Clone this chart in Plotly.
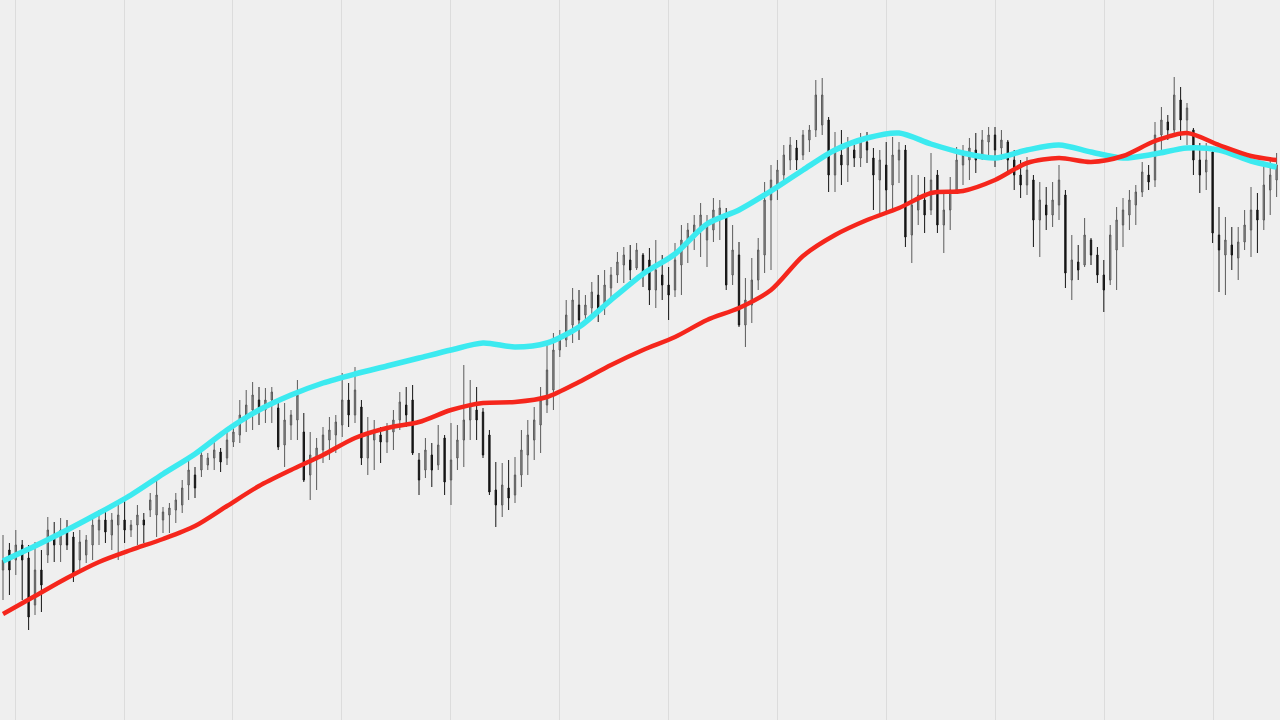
import plotly.graph_objects as go

# Daily candles (price units), index 0..199
opens = [150,170,160,175,162,115,150,165,185,175,
         192,183,160,165,175,190,200,185,195,200,
         190,195,200,210,205,200,205,210,215,235,
         245,250,255,262,268,262,278,285,300,310,
         320,310,320,312,275,295,300,288,245,260,
         270,280,285,295,320,305,313,262,280,285,
         278,288,300,315,320,260,250,265,255,282,
         240,262,280,300,310,308,285,230,215,232,
         225,245,265,280,295,315,330,370,380,395,
         415,405,412,425,412,432,445,455,460,452,
         465,460,430,445,435,430,455,478,488,490,
         480,490,505,505,445,465,395,415,440,465,
         520,535,545,560,572,565,580,590,595,600,
         545,565,555,570,562,578,562,540,555,535,
         560,570,485,510,520,510,545,495,510,530,
         555,560,570,565,578,585,572,578,560,545,
         535,540,500,515,505,515,525,440,458,455,
         480,465,445,440,470,495,505,515,528,545,
         540,585,598,590,620,600,590,560,548,568,
         485,465,475,462,478,490,510,500,530,540]
highs = [185,177,190,180,175,178,170,203,198,202,
         200,188,190,185,203,210,212,207,220,220,
         200,215,207,227,240,213,217,227,240,262,
         253,272,267,280,272,288,293,320,330,338,
         333,332,333,318,317,310,340,307,288,282,
         293,303,305,347,337,353,320,303,300,293,
         297,310,328,333,335,267,282,277,295,285,
         297,295,355,340,333,312,290,258,257,260,
         263,290,300,313,333,377,387,390,420,432,
         430,425,438,445,450,453,468,473,475,477,
         467,472,480,465,453,477,495,497,505,517,
         505,522,520,512,495,478,442,462,482,538,
         555,560,575,583,580,590,595,640,642,603,
         588,590,583,575,587,588,572,570,578,583,
         578,575,545,545,543,567,550,530,543,573,
         575,582,587,590,593,593,590,580,570,560,
         563,545,538,533,538,555,530,485,475,502,
         482,473,460,495,513,522,530,535,558,555,
         598,613,605,643,633,617,592,577,577,572,
         513,503,493,493,510,533,527,557,560,567]
lows = [120,125,145,120,90,105,108,157,158,158,
        170,138,150,157,160,175,177,170,160,177,
        183,175,177,203,183,187,187,197,207,220,
        222,243,250,250,248,255,273,277,288,290,
        295,297,297,270,253,280,280,238,220,230,
        257,260,267,283,293,297,255,245,250,257,
        267,270,290,293,265,225,242,233,250,225,
        215,250,253,280,280,262,225,193,203,210,
        217,233,245,260,267,307,310,363,373,377,
        380,397,405,398,405,420,437,437,440,450,
        433,415,412,420,400,423,425,457,470,463,
        453,478,480,430,435,393,373,397,430,447,
        450,520,538,550,550,560,568,583,585,528,
        528,535,538,553,553,557,510,503,507,510,
        537,473,457,495,487,505,487,467,490,527,
        535,540,547,560,563,553,560,545,530,522,
        525,473,463,490,493,500,432,420,440,453,
        455,437,408,435,430,473,490,495,523,530,
        533,570,580,583,580,575,545,527,530,477,
        428,425,450,440,470,463,467,490,505,523]
closes = [160,150,175,160,103,150,135,190,175,190,
          175,145,178,180,195,200,188,200,205,190,
          195,205,195,220,225,208,212,220,232,250,
          232,265,262,270,258,280,288,305,315,325,
          310,320,328,273,300,305,325,240,265,272,
          285,290,298,320,305,330,262,285,290,278,
          290,300,318,305,267,240,270,250,275,238,
          260,280,300,315,300,265,228,215,235,222,
          245,270,285,300,320,350,370,382,405,420,
          400,415,428,410,435,445,458,465,450,470,
          445,430,450,435,425,460,480,490,495,505,
          495,510,512,435,470,395,420,440,470,520,
          540,550,565,575,560,585,590,625,625,545,
          570,555,575,562,580,570,545,560,530,565,
          570,483,515,525,505,540,495,510,530,560,
          565,572,560,580,585,570,580,560,545,535,
          550,500,520,505,520,540,447,460,450,485,
          465,445,430,485,500,510,520,528,548,538,
          585,600,590,625,600,612,560,545,560,487,
          470,480,465,478,495,510,500,535,545,555]

# Moving averages, sampled every 5 candles
ma_index = [0,5,10,15,20,25,30,35,40,45,
            50,55,60,65,70,75,80,85,90,95,
            100,105,110,115,120,125,130,135,140,145,
            150,155,160,165,170,175,180,185,190,195,199]
cyan_ma = [159,174,190,207,225,246,266,290,310,325,
           337,346,354,362,370,377,373,377,393,420,
           446,466,496,510,529,550,570,582,587,576,
           567,562,570,575,568,562,566,572,570,559,553]
red_ma = [106,124,142,158,170,181,194,214,234,250,
          265,282,292,298,310,317,318,323,338,355,
          370,383,400,412,430,464,485,500,512,527,
          529,540,557,562,558,564,579,587,575,564,560]

idx = list(range(len(opens)))

fig = go.Figure()
fig.add_trace(go.Candlestick(
    x=idx, open=opens, high=highs, low=lows, close=closes,
    increasing=dict(line=dict(color="#5a5a5a", width=1), fillcolor="#9a9a9a"),
    decreasing=dict(line=dict(color="#151515", width=1), fillcolor="#151515"),
    whiskerwidth=0, showlegend=False, hoverinfo="skip",
))
fig.add_trace(go.Scatter(
    x=ma_index, y=cyan_ma, mode="lines",
    line=dict(color="#3ceaf0", width=5.5, shape="spline", smoothing=0.8),
    showlegend=False, hoverinfo="skip",
))
fig.add_trace(go.Scatter(
    x=ma_index, y=red_ma, mode="lines",
    line=dict(color="#f5261c", width=4.5, shape="spline", smoothing=0.8),
    showlegend=False, hoverinfo="skip",
))

fig.update_layout(
    width=1280, height=720,
    margin=dict(l=0, r=0, t=0, b=0),
    paper_bgcolor="#efefef", plot_bgcolor="#efefef",
    boxgap=0.7,
    showlegend=False,
    xaxis=dict(range=[-0.47, 199.53], showticklabels=False, ticks="",
               showgrid=True, gridcolor="#dcdcdc", gridwidth=1,
               tickmode="linear", tick0=1.875, dtick=17.03,
               zeroline=False, showline=False, rangeslider=dict(visible=False)),
    yaxis=dict(range=[0, 720], showticklabels=False, ticks="",
               showgrid=False, zeroline=False, showline=False),
)

fig.write_html("out.html", config={"displayModeBar": False},
               post_script="document.body.style.margin='0';document.body.style.background='#efefef';")
